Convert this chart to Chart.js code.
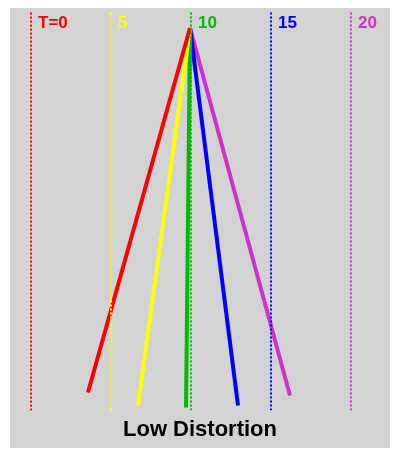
<!DOCTYPE html>
<html>
<head>
<meta charset="utf-8">
<script src="https://cdn.jsdelivr.net/npm/chart.js@4"></script>
<style>
  body { margin: 0; background: #fff; }
  #wrap { width: 400px; height: 456px; }
</style>
</head>
<body>
<div id="wrap"><canvas id="chart"></canvas></div>
<script>
// --- Data ---
const times = [0, 5, 10, 15, 20];
const timeLabels = ['T=0', '5', '10', '15', '20'];
const colors = ['#ff0000', '#ffff00', '#00bb00', '#0000ff', '#cc33cc'];
const apex = { x: 9.94, y: 95.5 };
const endX = [3.56, 6.69, 9.69, 12.94, 16.19];
const endY = [4.5, 1.25, 0.75, 1.25, 3.75];
const guideTop = 99.5;
const guideBottom = 0;

const datasets = [];
times.forEach((t, i) => {
    datasets.push({
        data: [{ x: t, y: guideBottom }, { x: t, y: guideTop }],
        borderColor: colors[i],
        borderWidth: 2,
        borderDash: [2, 2],
        pointRadius: 0
    });
});
times.forEach((t, i) => {
    datasets.push({
        data: [{ x: apex.x, y: apex.y }, { x: endX[i], y: endY[i] }],
        borderColor: colors[i],
        borderWidth: 4,
        pointRadius: 0
    });
});

// gray panel behind everything
const panel = {
    id: 'panel',
    beforeDraw(chart) {
        const ctx = chart.ctx;
        ctx.save();
        ctx.fillStyle = '#d3d3d3';
        ctx.fillRect(10, 8, 380, 440);
        ctx.restore();
    }
};

// time labels next to each guide line
const guideLabels = {
    id: 'guideLabels',
    afterDatasetsDraw(chart) {
        const ctx = chart.ctx;
        const xs = chart.scales.x, ys = chart.scales.y;
        ctx.save();
        ctx.font = 'bold 17px "Liberation Sans", Arial, sans-serif';
        ctx.textBaseline = 'middle';
        times.forEach((t, i) => {
            ctx.fillStyle = colors[i];
            ctx.fillText(timeLabels[i], xs.getPixelForValue(t) + 7, ys.getPixelForValue(96.8));
        });
        ctx.restore();
    }
};

new Chart(document.getElementById('chart'), {
    type: 'line',
    data: { datasets },
    options: {
        responsive: true,
        maintainAspectRatio: false,
        animation: false,
        layout: { padding: { left: 10, right: 10, top: 10, bottom: 8 } },
        scales: {
            x: { type: 'linear', min: -1.3125, max: 22.44, display: false },
            y: { min: 0, max: 100, display: false }
        },
        plugins: {
            legend: { display: false },
            tooltip: { enabled: false },
            title: {
                display: true,
                position: 'bottom',
                text: 'Low Distortion',
                color: '#000',
                font: { family: '"Liberation Sans", Arial, sans-serif', size: 22, weight: 'bold' },
                padding: { top: 6, bottom: 5 }
            }
        }
    },
    plugins: [panel, guideLabels]
});
</script>
</body>
</html>
